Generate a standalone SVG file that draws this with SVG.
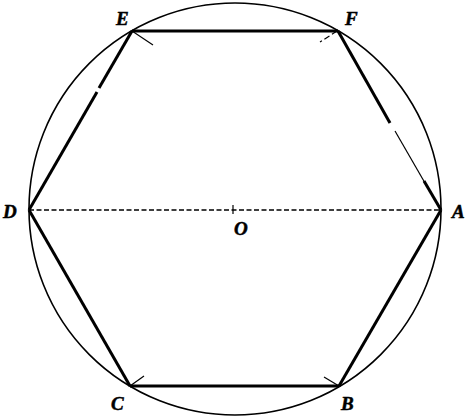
<svg xmlns="http://www.w3.org/2000/svg" width="474" height="420" viewBox="0 0 474 420">
<style>
.lbl{font-family:"Liberation Serif","DejaVu Serif",serif;font-weight:bold;font-style:italic;font-size:19px;fill:#000;stroke:#000;stroke-width:0.5}
.hex{stroke:#000;stroke-width:3;fill:none;stroke-linecap:butt}
.thin{stroke:#000;stroke-width:1.2;fill:none}
</style>
<rect width="474" height="420" fill="#fff"/>
<g id="circle">
<circle cx="235" cy="209" r="206" fill="none" stroke="#000" stroke-width="1.6"/>
</g>
<g id="connectors">
<line class="hex" x1="132" y1="31" x2="338" y2="31"/>
<line class="hex" x1="338" y1="31" x2="390" y2="123"/>
<line class="thin" x1="395" y1="131" x2="425" y2="183"/>
<line class="hex" x1="424" y1="181" x2="441" y2="210"/>
<line class="hex" x1="441" y1="210" x2="339" y2="386"/>
<line class="hex" x1="339" y1="386" x2="130" y2="386"/>
<line class="hex" x1="130" y1="386" x2="29" y2="210"/>
<line class="hex" x1="29" y1="210" x2="97" y2="92"/>
<line class="hex" x1="99" y1="88" x2="132" y2="31"/>
<line x1="29" y1="210" x2="441" y2="210" stroke="#000" stroke-width="1.6" stroke-dasharray="5,2.5"/>
<line class="thin" x1="233" y1="205" x2="233" y2="214"/>
<line class="thin" x1="132" y1="31" x2="153" y2="45"/>
<line class="thin" x1="337" y1="31" x2="320" y2="42" stroke-dasharray="6,3"/>
<line class="thin" x1="130" y1="386" x2="144" y2="376"/>
<line class="thin" x1="339" y1="386" x2="324" y2="377"/>
</g>
<g id="E"><text class="lbl" x="116" y="25">E</text></g>
<g id="F"><text class="lbl" x="345" y="25">F</text></g>
<g id="D"><text class="lbl" x="3" y="218">D</text></g>
<g id="A"><text class="lbl" x="452" y="218">A</text></g>
<g id="O"><text class="lbl" x="234" y="235">O</text></g>
<g id="C"><text class="lbl" x="111" y="410">C</text></g>
<g id="B"><text class="lbl" x="341" y="410">B</text></g>
</svg>
